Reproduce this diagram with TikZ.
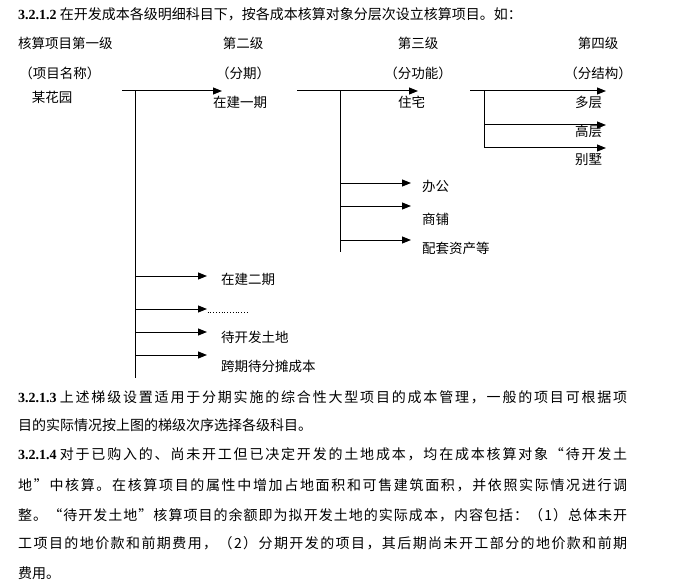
\documentclass[tikz,border=0pt]{standalone}
\usepackage{fontspec}
\setmainfont{Liberation Serif}
\newfontfamily\cjk{Noto Sans CJK SC}
\usetikzlibrary{arrows.meta}
\tikzset{
  lbl/.style={inner sep=0pt,font=\cjk\fontsize{13.5}{15}\selectfont},
  ln/.style={inner sep=0pt,anchor=west,font=\cjk\fontsize{14}{16}\selectfont},
  arr/.style={line width=1pt,-{Triangle[length=9pt,width=7pt]}},
  trunk/.style={line width=0.9pt}
}
\newcommand{\numb}[1]{{\fontspec{Liberation Serif}\bfseries #1}}
\def\spreadloop#1{\ifx#1\relax\else #1\hskip 0pt plus 1fil\expandafter\spreadloop\fi}
\newcommand{\fline}[2]{\makebox[609pt][s]{#1\spreadloop#2\relax\unskip}}
\begin{document}
\begin{tikzpicture}[x=1pt,y=-1pt]
\useasboundingbox (0,0) rectangle (673,586);
% header
\node[ln] (t0) at (18,14) {\numb{3.2.1.2}\ 在开发成本各级明细科目下，按各成本核算对象分层次设立核算项目。如：};
\node[lbl,anchor=west] (h1) at (18,43) {核算项目第一级};
\node[lbl] (h2) at (243,43) {第二级};
\node[lbl] (h3) at (418,43) {第三级};
\node[lbl] (h4) at (598,43) {第四级};
\node[lbl] (s1) at (60,73) {（项目名称）};
\node[lbl] (s2) at (243,73) {（分期）};
\node[lbl] (s3) at (418,73) {（分功能）};
\node[lbl] (s4) at (598,73) {（分结构）};
\node[lbl] (root) at (52,97) {某花园};
% level 2 nodes
\node[lbl,anchor=west] (p1) at (213,102) {在建一期};
\node[lbl,anchor=west] (p2) at (221,279) {在建二期};
\node[lbl,anchor=west] (p3) at (207,312) {\tikz\draw[dotted,line width=0.8pt] (0,0)--(41pt,0);};
\node[lbl,anchor=west] (p4) at (221,337) {待开发土地};
\node[lbl,anchor=west] (p5) at (221,366) {跨期待分摊成本};
% level 3 nodes
\node[lbl,anchor=west] (f1) at (398,102) {住宅};
\node[lbl,anchor=west] (f2) at (422,186) {办公};
\node[lbl,anchor=west] (f3) at (422,219) {商铺};
\node[lbl,anchor=west] (f4) at (422,248) {配套资产等};
% level 4 nodes
\node[lbl,anchor=west] (g1) at (575,102) {多层};
\node[lbl,anchor=west] (g2) at (575,131) {高层};
\node[lbl,anchor=west] (g3) at (575,160) {别墅};
% coordinates
\coordinate (a0) at (122,91); \coordinate (a1) at (222,91);
\coordinate (v1t) at (135,91); \coordinate (v1b) at (135,378);
\coordinate (b0) at (297,91); \coordinate (b1) at (418,91);
\coordinate (v2t) at (340,91); \coordinate (v2b) at (340,252);
\coordinate (c0) at (470,91); \coordinate (c1) at (606,91);
\coordinate (v3t) at (484,91); \coordinate (v3b) at (484,148);
\draw[arr] (a0) -- (a1);
\draw[trunk] (v1t) -- (v1b);
\foreach \y in {276,309,332,355} \draw[arr] (135,\y) -- (207,\y);
\draw[arr] (b0) -- (b1);
\draw[trunk] (v2t) -- (v2b);
\foreach \y in {183,206,240} \draw[arr] (340,\y) -- (411,\y);
\draw[arr] (c0) -- (c1);
\draw[trunk] (v3t) -- (v3b);
\foreach \y in {125,148} \draw[arr] (484,\y) -- (606,\y);
% paragraphs
\node[ln] (l1) at (18,397) {\fline{\numb{3.2.1.3}\ }{上述梯级设置适用于分期实施的综合性大型项目的成本管理，一般的项目可根据项}};
\node[ln] (l2) at (18,425) {目的实际情况按上图的梯级次序选择各级科目。};
\node[ln] (l3) at (18,454) {\fline{\numb{3.2.1.4}\ }{对于已购入的、尚未开工但已决定开发的土地成本，均在成本核算对象“待开发土}};
\node[ln] (l4) at (18,485) {\fline{}{地”中核算。在核算项目的属性中增加占地面积和可售建筑面积，并依照实际情况进行调}};
\node[ln] (l5) at (18,515) {\fline{}{整。“待开发土地”核算项目的余额即为拟开发土地的实际成本，内容包括：（1）总体未开}};
\node[ln] (l6) at (18,543) {\fline{}{工项目的地价款和前期费用，（2）分期开发的项目，其后期尚未开工部分的地价款和前期}};
\node[ln] (l7) at (18,573) {费用。};
\end{tikzpicture}
\end{document}
